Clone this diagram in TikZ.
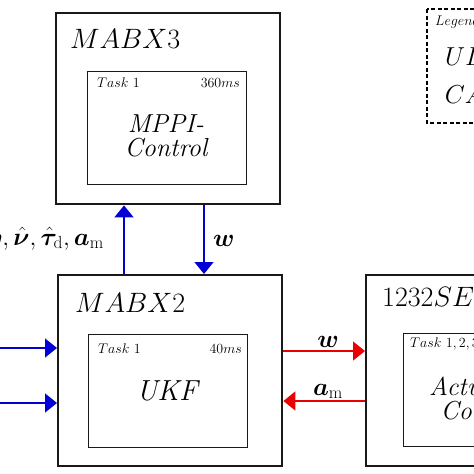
\RequirePackage{fix-cm}
\documentclass[tikz,border=0pt]{standalone}
\usepackage{bm}
\usetikzlibrary{arrows.meta,positioning}

\definecolor{udpblue}{RGB}{0,0,215}
\definecolor{canred}{RGB}{235,0,0}

\tikzset{
  unit/.style={draw=black!90, line width=2.4pt, anchor=north west, inner sep=0pt,
    minimum width=224pt, minimum height=191pt},
  task/.style={draw=black!90, line width=1.3pt, anchor=north west, inner sep=0pt,
    minimum width=159pt, minimum height=113pt},
  unitname/.style={anchor=base west, inner sep=0pt, font=\fontsize{28}{30}\selectfont},
  taskname/.style={inner sep=0pt, font=\fontsize{14}{16}\selectfont},
  job/.style={inner sep=0pt, align=center, font=\fontsize{26}{24}\selectfont\itshape},
  signal/.style={inner sep=0pt, font=\fontsize{25}{28}\selectfont},
  udp/.style={draw=udpblue, line width=1.4pt, -{Triangle[length=12pt,width=19pt,fill=udpblue]}},
  can/.style={draw=canred, line width=1.4pt, -{Triangle[length=12pt,width=19pt,fill=canred]}},
}

\begin{document}
\begin{tikzpicture}[x=1pt,y=1pt,yscale=-1,xscale=1]
\useasboundingbox (0,0) rectangle (474,474);
\clip (0,0) rectangle (474,474);

% units
\node[unit] (mabx3) at (55,12) {};
\node[unit] (mabx2) at (57,274) {};
\node[unit] (ecu) at (365,274) {};

% tasks
\node[task] (mppi) at (87,71) {};
\node[task] (ukf) at (88,334) {};
\node[task] (act) at (403,333) {};

% unit names
\node[unitname] (n3) at (70,48) {$MABX3$};
\node[unitname] (n2) at (75,312) {$MABX2$};
\node[unitname] (ne) at (382,306) {$1232SE$};

% task headers
\node[taskname, anchor=base west] (t3) at (97,87) {$Task\ 1$};
\node[taskname, anchor=base east] (c3) at (240,87) {$360ms$};
\node[taskname, anchor=base west] (t2) at (98,353) {$Task\ 1$};
\node[taskname, anchor=base east] (c2) at (242,353) {$40ms$};
\node[taskname, anchor=base west] (te) at (410,347) {$Task\ 1,2,3$};

% task contents
\node[job] (j3) at (166,136) {MPPI-\\Control};
\node[job, font=\fontsize{29}{30}\selectfont\itshape] (j2) at (167,391) {UKF};
\node[job] (je) at (482,398) {Actuator-\\Control};

% legend
\draw[line width=1.3pt, dash pattern=on 4pt off 2.5pt] (427,9) rectangle (525,123);
\node[taskname, anchor=base west] (lg) at (435,25) {$Legend$};
\node[job, font=\fontsize{26}{28}\selectfont, anchor=base] (lu) at (476,65) {$UDP$};
\node[job, font=\fontsize{26}{28}\selectfont, anchor=base] (lc) at (476,103) {$CAN$};

% UDP links
\draw[udp] ([xshift=67pt]mabx2.north west) coordinate (up0) -- (up0 |- mabx3.south);
\draw[udp] ([xshift=149pt]mabx3.south west) coordinate (dn0) -- (dn0 |- mabx2.north);
\coordinate (in1) at (-5,348);
\coordinate (in2) at (-5,403);
\draw[udp] (in1) -- (in1 -| mabx2.west);
\draw[udp] (in2) -- (in2 -| mabx2.west);

% CAN links
\draw[can] ([yshift=77pt]mabx2.north east) coordinate (w0) -- (w0 -| ecu.west);
\draw[can] ([yshift=127pt]ecu.north west) coordinate (a0) -- (a0 -| mabx2.east);

% signals
\node[signal, anchor=base east] (s1) at (104,245) {$\hat{\bm{\eta}}, \hat{\bm{\nu}}, \hat{\bm{\tau}}_\mathrm{d}, \bm{a}_\mathrm{m}$};
\node[signal, anchor=base west] (s2) at (213,246) {$\bm{w}$};
\node[signal, anchor=base] (s3) at (328,347) {$\bm{w}$};
\node[signal, anchor=base] (s4) at (328,395) {$\bm{a}_\mathrm{m}$};

\end{tikzpicture}
\end{document}
